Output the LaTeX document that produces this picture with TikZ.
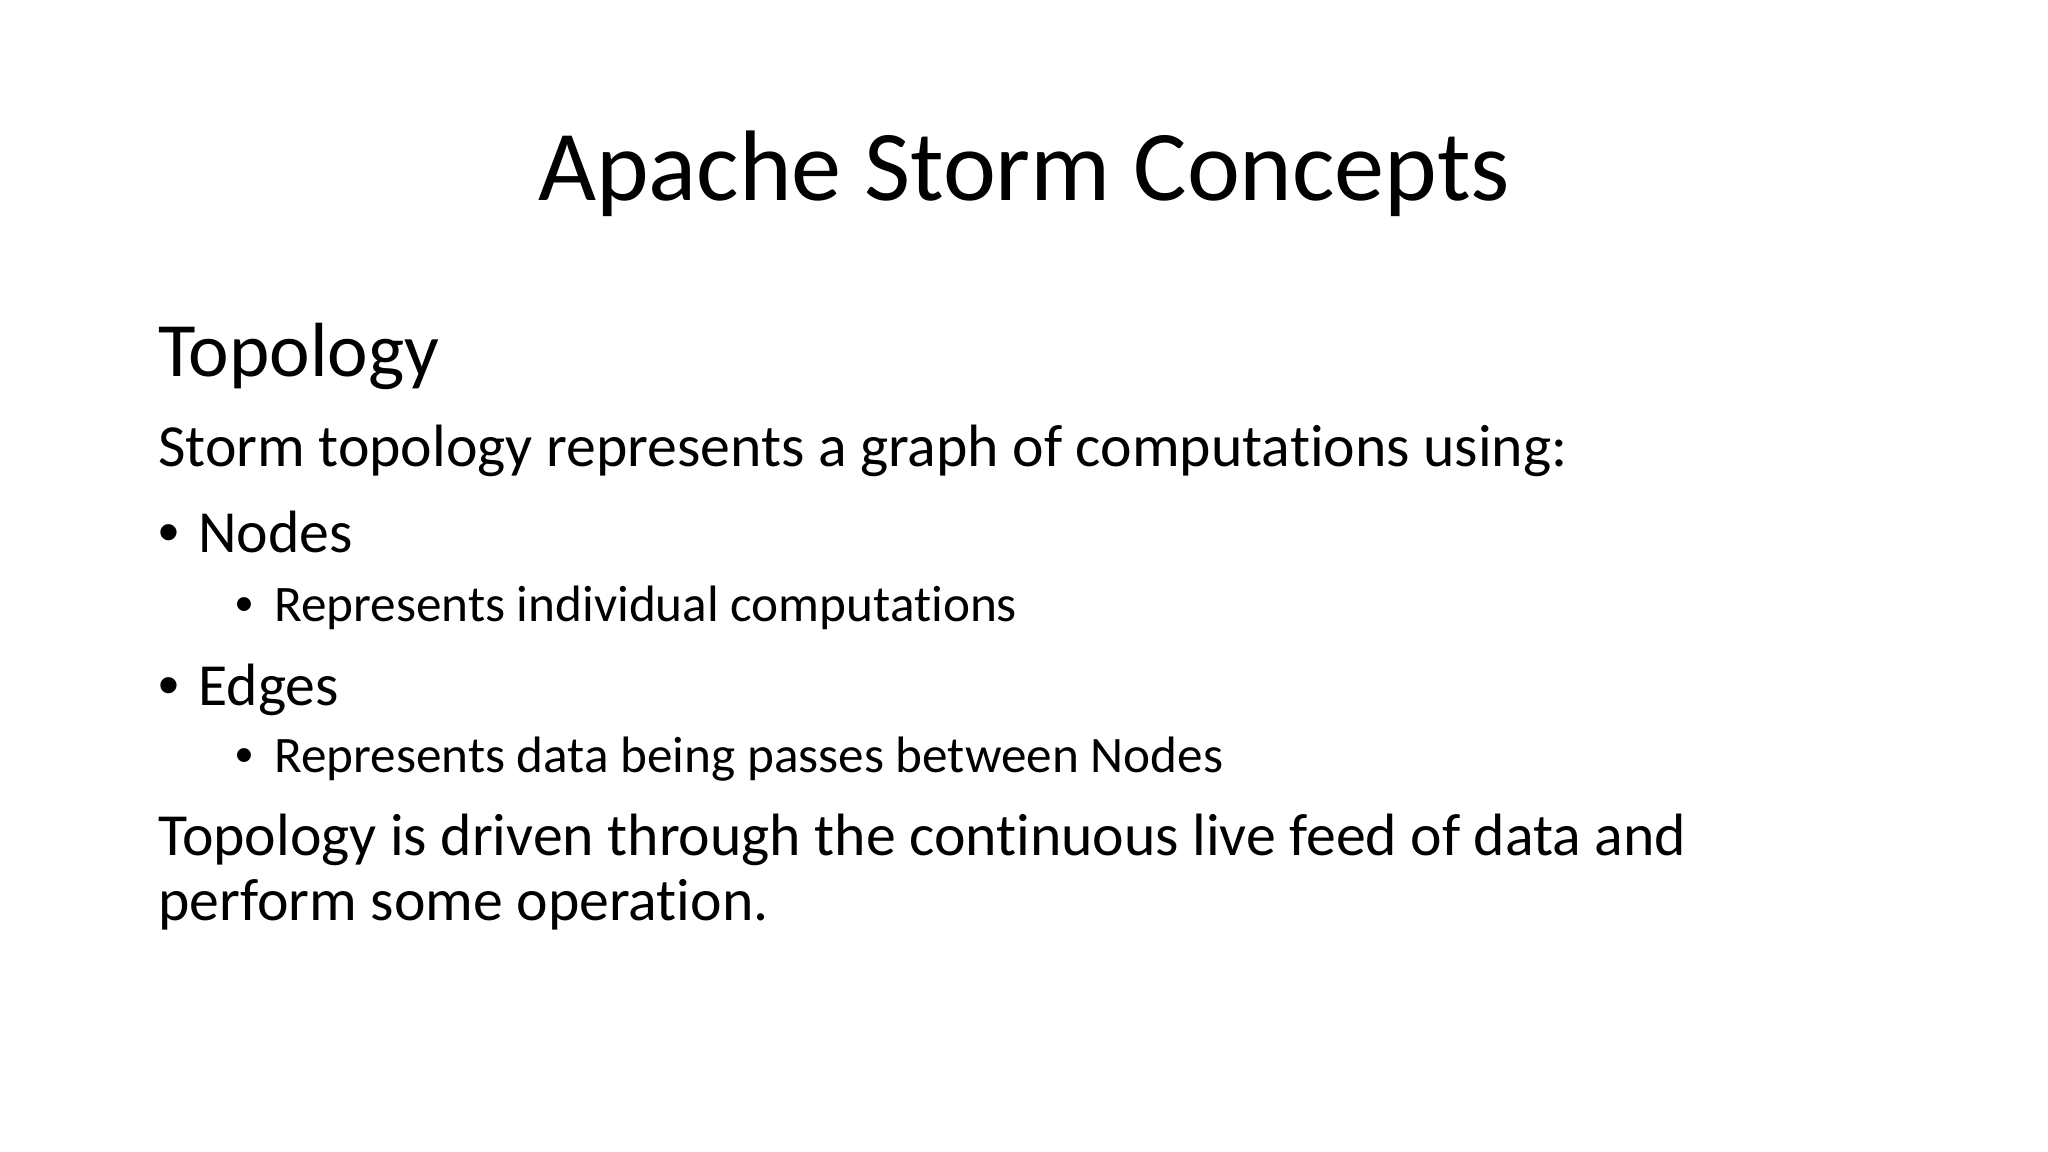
\documentclass[tikz,border=0pt]{standalone}
\usepackage{fontspec}
\setmainfont{Carlito}[Ligatures=NoCommon]
\newfontfamily\dotfont{Liberation Sans}

\begin{document}
\begin{tikzpicture}[x=1pt,y=-1pt,
        titleText/.style={anchor=base, inner sep=0pt, font=\fontsize{47}{52}\selectfont},
        bodyText/.style={anchor=base west, inner sep=0pt, font=\fontsize{28}{30.8}\selectfont},
        headText/.style={bodyText, font=\fontsize{36}{40}\selectfont},
        subText/.style={bodyText, font=\fontsize{24}{28}\selectfont},
        bigDot/.style={bodyText, font=\dotfont\fontsize{28}{30.8}\selectfont},
        smallDot/.style={bodyText, font=\dotfont\fontsize{24}{28}\selectfont}]
        \useasboundingbox (0,0) rectangle (960,540);
        \node[titleText] (title) at (480,94.2) {Apache Storm Concepts};
        \node[headText] (topo) at (74,176.7) {Topology};
        \node[bodyText] (intro) at (74,218.8) {Storm topology represents a graph of computations using:};
        % first level
        \node[bigDot] (nodesDot) at (74,258.9) {•};
        \node[bodyText] (nodes) at (92.8,258.9) {Nodes};
        \node[smallDot] (nodesSubDot) at (110,291.4) {•};
        \node[subText] (nodesSub) at (128.4,291.4) {Represents individual computations};
        \node[bigDot] (edgesDot) at (74,330.5) {•};
        \node[bodyText] (edges) at (92.8,330.5) {Edges};
        \node[smallDot] (edgesSubDot) at (110,362.2) {•};
        \node[subText] (edgesSub) at (128.4,362.2) {Represents data being passes between Nodes};
        % closing lines
        \node[bodyText] (drive) at (74,400.8) {Topology is driven through the continuous live feed of data and};
        \node[bodyText] (driveEnd) at (74,431.6) {perform some operation.};
\end{tikzpicture}
\end{document}
